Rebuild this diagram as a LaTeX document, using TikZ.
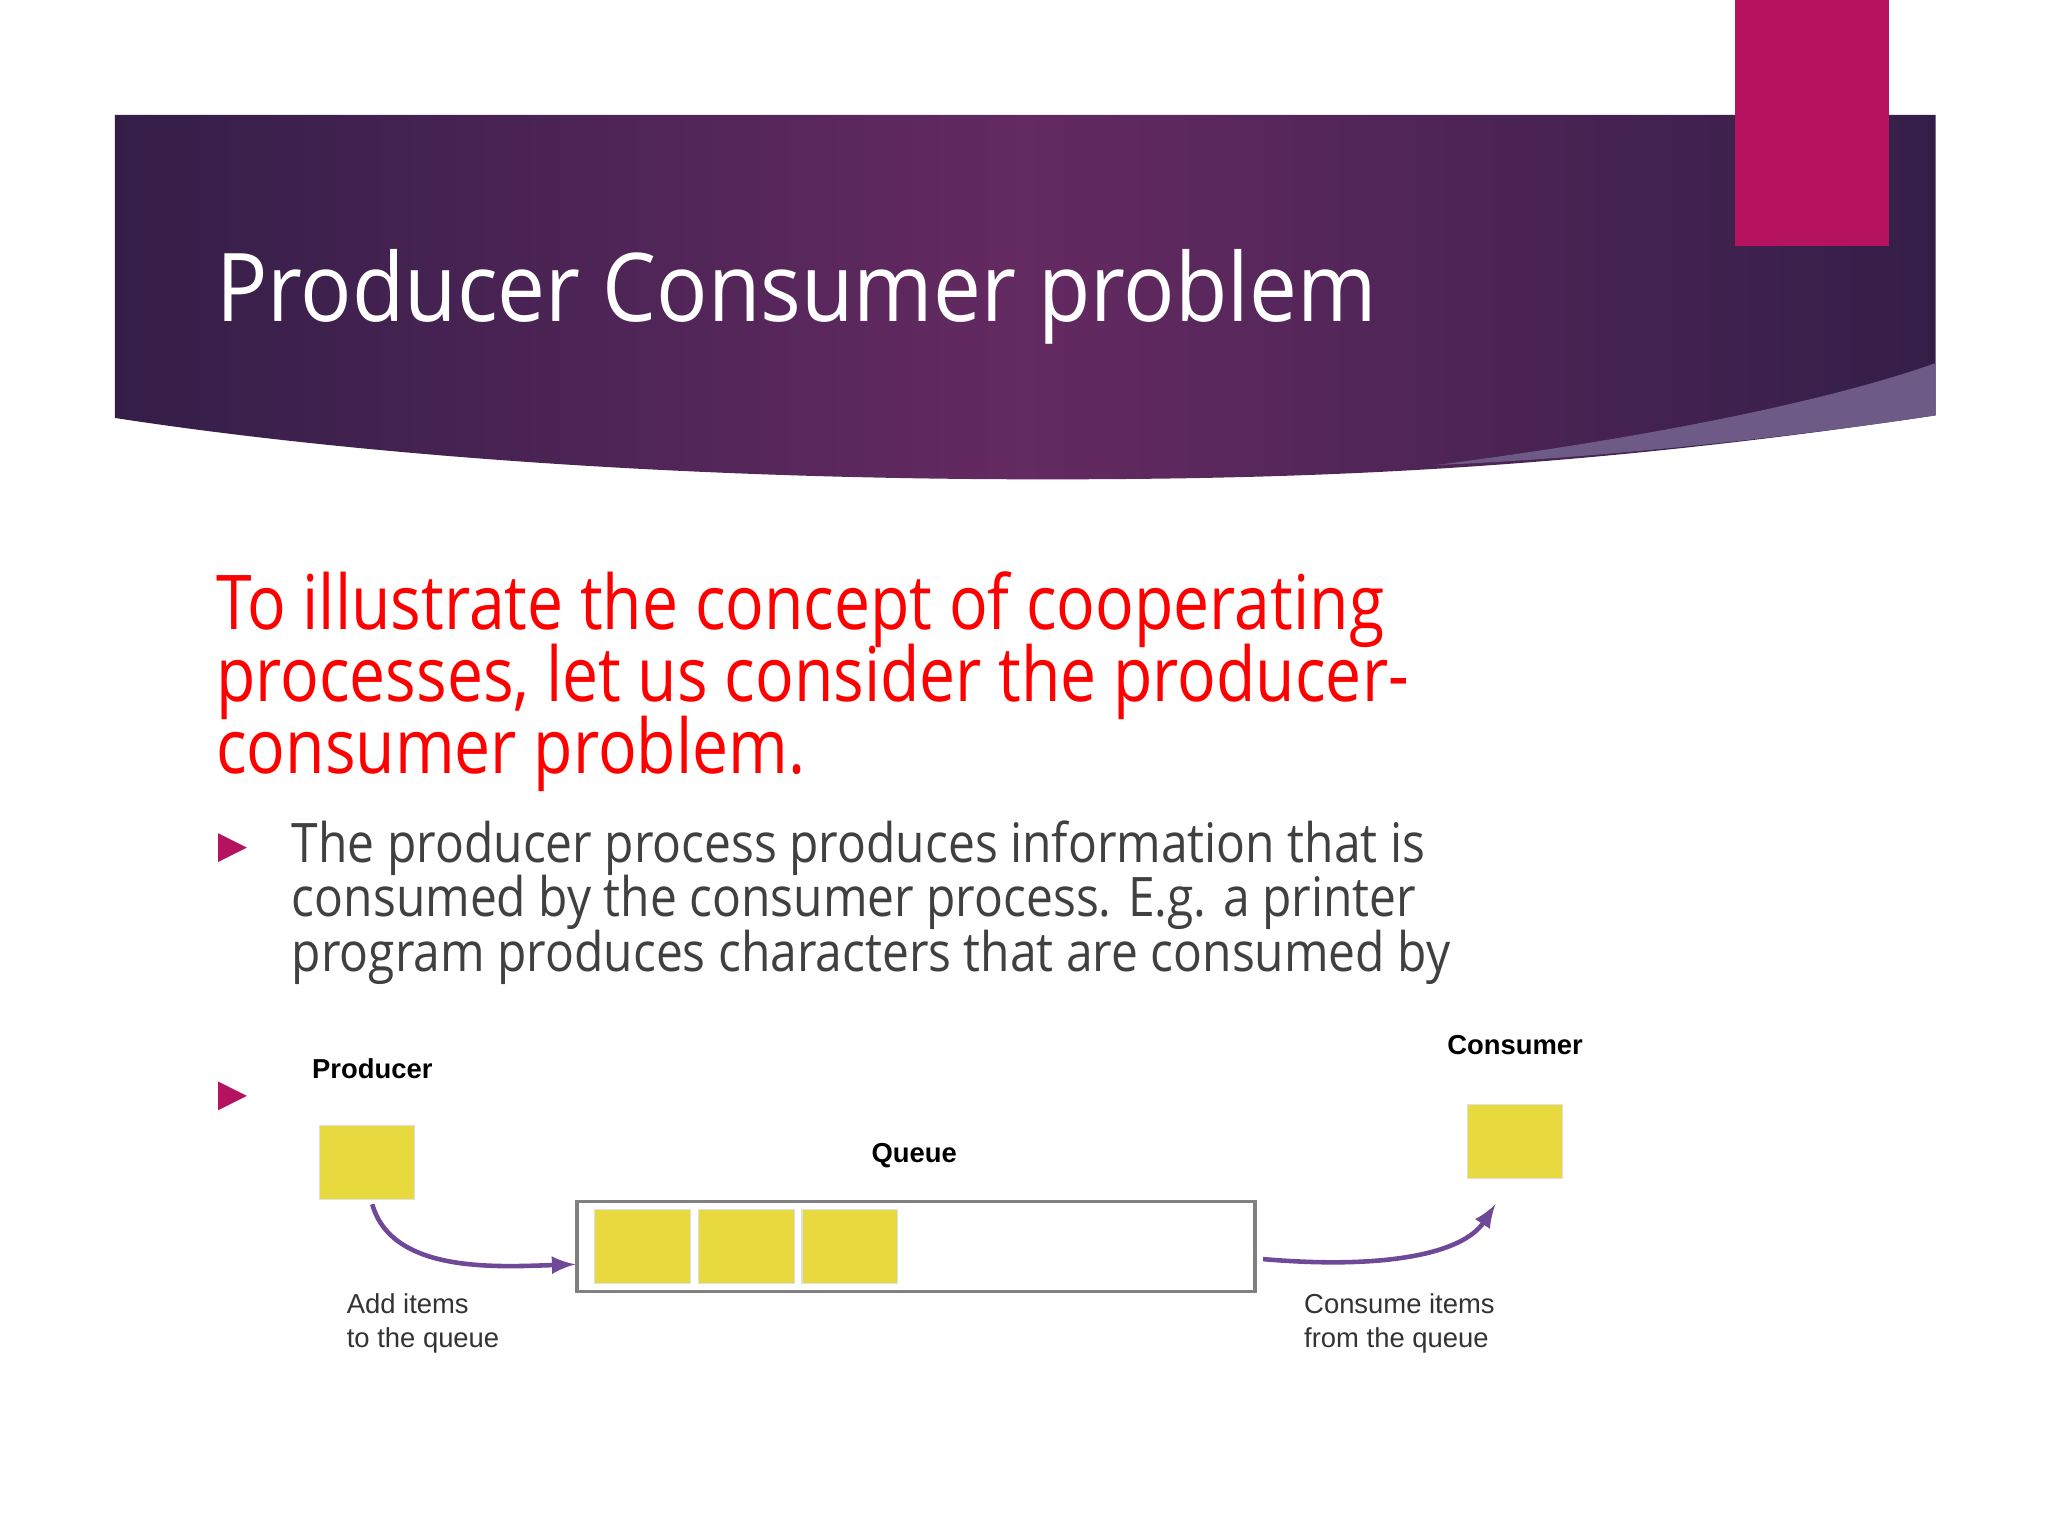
\documentclass[tikz,border=0pt]{standalone}
\usepackage{fontspec}
\setmainfont{Open Sans}
\newfontfamily\segoe[FakeStretch=0.88]{Open Sans}
\newfontfamily\segoer[FakeStretch=0.85]{Open Sans}
\newfontfamily\segoet[FakeStretch=0.9]{Open Sans}
\newfontfamily\arialf{Liberation Sans}
\definecolor{banddark}{RGB}{52,30,72}
\definecolor{bandmid}{RGB}{100,42,98}
\definecolor{bandlight}{RGB}{110,90,135}
\definecolor{mag}{RGB}{181,19,95}
\definecolor{arrowc}{RGB}{112,72,152}
\definecolor{sq}{RGB}{232,218,62}
\begin{document}
\begin{tikzpicture}[x=0.013061cm,y=-0.013061cm,
  ysq/.style={fill=sq, draw=black!12, line width=0.3pt, inner sep=0pt, minimum width=0.953cm, minimum height=0.74cm},
  lbl/.style={font=\arialf\fontsize{7.8}{9.6}\selectfont, inner sep=0pt, align=left, text=black!80},
  blbl/.style={font=\arialf\bfseries\fontsize{7.8}{9.5}\selectfont, inner sep=0pt},
  redt/.style={anchor=base west, inner sep=0pt, red, font=\segoer\fontsize{21.5}{26}\selectfont},
  grayt/.style={anchor=base west, inner sep=0pt, black!75, font=\segoe\fontsize{15.5}{19}\selectfont},
  arr/.style={draw=arrowc, line width=1.3pt, -latex}]
\useasboundingbox (0,0) rectangle (1568,1176);
\fill[white] (0,0) rectangle (1568,1176);
% band
\shade[left color=banddark, right color=banddark, middle color=bandmid]
  (88,88) -- (1482,88) -- (1482,318) .. controls (1200,360) and (1000,367) .. (800,367) .. controls (500,367) and (250,345) .. (88,320) -- cycle;
\fill[bandlight] (1100,356) .. controls (1300,330) and (1420,300) .. (1482,278) -- (1482,318) .. controls (1350,338) and (1200,352) .. (1100,356) -- cycle;
\fill[mag] (1328,0) rectangle (1446,188);
\node[anchor=base west, inner sep=0pt, white, font=\segoet\fontsize{27}{32}\selectfont] (title) at (165,246) {Producer Consumer problem};
% red text
\node[redt] (r1) at (165,482) {To illustrate the concept of cooperating};
\node[redt] (r2) at (165,537) {processes, let us consider the producer-};
\node[redt] (r3) at (165,592) {consumer problem.};
% bullets
\fill[mag] (167,638) -- (189,649) -- (167,660) -- cycle;
\fill[mag] (167,828) -- (189,839) -- (167,850) -- cycle;
\node[grayt] (g1) at (223,660) {The producer process produces information that is};
\node[grayt] (g2) at (223,702) {consumed by the consumer process. E.g. a printer};
\node[grayt] (g3) at (223,744) {program produces characters that are consumed by};
% diagram
\node[blbl] (prod) at (285,818) {Producer};
\node[blbl] (queue) at (700,885) {Queue};
\node[blbl] (cons) at (1160,800) {Consumer};
\node[ysq] (ps) at (281,890) {};
\node[ysq] (cs) at (1160,874) {};
\node[draw=black!50, line width=1pt, minimum width=6.78cm, minimum height=0.9cm, inner sep=0pt] (q) at (701.5,954.5) {};
\node[ysq] (q1) at (492,954.5) {};
\node[ysq] (q2) at (571.5,954.5) {};
\node[ysq] (q3) at (650.5,954.5) {};
\coordinate (pa) at (285,922);
\coordinate (ca) at (967,964);
\coordinate (ce) at (1145,922);
\draw[arr] (pa) .. controls (300,975) and (380,970) .. (q.west |- 0,968);
\draw[arr] (ca) .. controls (1060,972) and (1120,960) .. (ce);
\node[lbl, anchor=north west] (add) at (265,990) {Add items\\to the queue};
\node[lbl, anchor=north west] (con) at (998,990) {Consume items\\from the queue};
\end{tikzpicture}
\end{document}
